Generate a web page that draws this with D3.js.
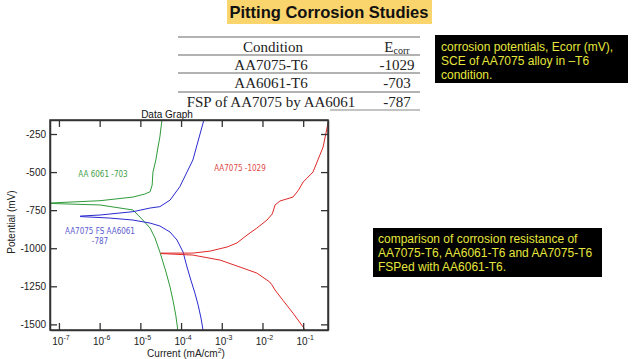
<!DOCTYPE html>
<html><head><meta charset="utf-8">
<script src="https://cdn.jsdelivr.net/npm/d3@7"></script>
<style>body{margin:0;background:#fff}svg{display:block}</style>
</head><body>
<svg id="c" width="638" height="359"></svg>
<script>
// ---------- data ----------
const yTicks = [-250, -500, -750, -1000, -1250, -1500];
const xTickExp = [-7, -6, -5, -4, -3, -2, -1];
const tableRows = [["AA7075-T6", "-1029"], ["AA6061-T6", "-703"], ["FSP of AA7075 by AA6061", "-787"]];
const note1 = ["corrosion potentials, Ecorr (mV),", "SCE of AA7075 alloy in \u2013T6", "condition."];
const note2 = ["comparison of corrosion resistance of", "AA7075-T6, AA6061-T6 and AA7075-T6", "FSPed with AA6061-T6."];

// current (mA/cm2), potential (mV)
const greenAnodicI = [6.03e-8, 1.02e-6, 6.61e-6, 1.29e-5, 1.74e-5, 1.95e-5, 2.04e-5, 2.40e-5, 2.69e-5, 3.02e-5, 3.39e-5];
const greenAnodicE = [-703, -688, -664, -644, -629, -585, -500, -421, -342, -268, -158];
const greenCathI = [6.03e-8, 1.02e-6, 6.61e-6, 1.15e-5, 1.74e-5, 2.29e-5, 3.02e-5, 4.27e-5, 5.37e-5, 6.31e-5, 7.41e-5, 8.32e-5];
const greenCathE = [-706, -716, -749, -815, -868, -933, -1025, -1157, -1255, -1341, -1439, -1538];

const blueAnodicI = [3.31e-7, 1.02e-6, 6.61e-6, 1.74e-5, 3.02e-5, 5.37e-5, 9.33e-5, 1.95e-4, 3.47e-4, 3.63e-4];
const blueAnodicE = [-789, -782, -760, -736, -727, -684, -596, -421, -178, -158];
const blueCathI = [3.31e-7, 1.78e-6, 6.61e-6, 1.74e-5, 3.02e-5, 5.37e-5, 7.94e-5, 1.12e-4, 1.38e-4, 1.74e-4, 2.19e-4, 2.63e-4, 3.09e-4, 3.47e-4];
const blueCathE = [-792, -802, -815, -835, -854, -894, -946, -1025, -1117, -1209, -1295, -1374, -1459, -1538];

const redAnodicI = [3.16e-5, 1.95e-4, 5.13e-4, 1.35e-3, 2.34e-3, 4.17e-3, 7.24e-3, 1.29e-2, 1.74e-2, 2.04e-2, 2.69e-2, 5.62e-2, 7.6e-2, 1.00e-1, 1.74e-1, 3.09e-1, 4.07e-1];
const redAnodicE = [-1032, -1032, -1019, -992, -966, -914, -868, -815, -775, -716, -690, -664, -620, -565, -500, -335, -178];
const redCathI = [3.16e-5, 1.95e-4, 9.12e-4, 2.82e-3, 7.24e-3, 1.51e-2, 1.70e-2, 2.04e-2, 3.16e-2, 5.62e-2, 1.00e-1, 1.10e-1];
const redCathE = [-1035, -1045, -1078, -1124, -1163, -1222, -1240, -1275, -1341, -1426, -1518, -1538];

// ---------- layout ----------
const svg = d3.select("#c");
const L = 50, R = 328, T = 120, B = 330;
const x = d3.scaleLog().domain([6.03e-8, 4.07e-1]).range([L, R]);
const y = d3.scaleLinear().domain([-1537, -158]).range([B, T]);

// title
svg.append("rect").attr("x", 227).attr("y", 0).attr("width", 205).attr("height", 24).attr("fill", "#fad46c");
svg.append("text").attr("x", 329).attr("y", 18).attr("text-anchor", "middle")
  .attr("font-family", "Liberation Sans, Arial, sans-serif").attr("font-weight", "bold").attr("font-size", 16.5)
  .attr("fill", "#111").text("Pitting Corrosion Studies");

// table
const tf = "Liberation Serif, Times New Roman, serif";
[37, 55, 73, 92].forEach(yy => svg.append("line").attr("x1", 178).attr("x2", 420).attr("y1", yy).attr("y2", yy).attr("stroke", "#666").attr("stroke-width", 1.2));
svg.append("line").attr("x1", 330).attr("x2", 420).attr("y1", 110).attr("y2", 110).attr("stroke", "#888").attr("stroke-width", 1.2);
svg.append("text").attr("x", 273).attr("y", 52).attr("text-anchor", "middle").attr("font-family", tf).attr("font-size", 15).attr("fill", "#222").text("Condition");
const eh = svg.append("text").attr("x", 397).attr("y", 52).attr("text-anchor", "middle").attr("font-family", tf).attr("font-size", 15).attr("fill", "#222");
eh.append("tspan").text("E");
eh.append("tspan").attr("font-size", 10).attr("dy", 2).text("corr");
tableRows.forEach((r, i) => {
  const yy = 70 + i * 18.3;
  svg.append("text").attr("x", 271).attr("y", yy).attr("text-anchor", "middle").attr("font-family", tf).attr("font-size", 15).attr("fill", "#222").text(r[0]);
  svg.append("text").attr("x", 397).attr("y", yy).attr("text-anchor", "middle").attr("font-family", tf).attr("font-size", 15).attr("fill", "#222").text(r[1]);
});

// note boxes
function note(bx, by, bw, bh, lines, tx, ty0) {
  svg.append("rect").attr("x", bx).attr("y", by).attr("width", bw).attr("height", bh).attr("fill", "#000");
  lines.forEach((s, i) => svg.append("text").attr("x", tx).attr("y", ty0 + i * 14)
    .attr("font-family", "Liberation Sans, Arial, sans-serif").attr("font-size", 12).attr("fill", "#e6e63c").text(s));
}
note(435, 35, 193, 48, note1, 441, 51);
note(373, 228, 229, 49, note2, 378, 243);

// chart
const af = "Liberation Sans, Arial, sans-serif";
svg.append("text").attr("x", 167).attr("y", 118).attr("text-anchor", "middle").attr("font-family", af).attr("font-size", 10).attr("fill", "#111").text("Data Graph");

const clip = svg.append("defs").append("clipPath").attr("id", "pc");
clip.append("rect").attr("x", L).attr("y", T).attr("width", R - L).attr("height", B - T);

const line = d3.line().x(d => x(d[0])).y(d => y(d[1]));
const g = svg.append("g").attr("clip-path", "url(#pc)");
function series(I, E, col) {
  g.append("path").datum(I.map((v, i) => [v, E[i]])).attr("d", line).attr("fill", "none").attr("stroke", col).attr("stroke-width", 1);
}
series(greenAnodicI, greenAnodicE, "#2f9a3a");
series(greenCathI, greenCathE, "#2f9a3a");
series(blueAnodicI, blueAnodicE, "#2a2ad0");
series(blueCathI, blueCathE, "#2a2ad0");
series(redAnodicI, redAnodicE, "#e02828");
series(redCathI, redCathE, "#e02828");

// axes
const xt = xTickExp.map(e => Math.pow(10, e));
const ax = (a) => a.tickSizeOuter(0).tickFormat("");
svg.append("g").attr("transform", `translate(0,${B})`).call(ax(d3.axisBottom(x).tickValues(xt).tickSizeInner(-7)));
svg.append("g").attr("transform", `translate(0,${T})`).call(ax(d3.axisTop(x).tickValues(xt).tickSizeInner(-7)));
svg.append("g").attr("transform", `translate(${L},0)`).call(ax(d3.axisLeft(y).tickValues(yTicks).tickSizeInner(-7)));
svg.append("g").attr("transform", `translate(${R},0)`).call(ax(d3.axisRight(y).tickValues(yTicks).tickSizeInner(-7)));
svg.selectAll("g .domain").attr("stroke", "#333").attr("stroke-width", 1.5);
svg.selectAll("g .tick line").attr("stroke", "#333").attr("stroke-width", 1.3);
svg.append("rect").attr("x", L).attr("y", T).attr("width", R - L).attr("height", B - T).attr("fill", "none").attr("stroke", "#333").attr("stroke-width", 1.5);

// tick labels
yTicks.forEach(v => svg.append("text").attr("x", 46).attr("y", y(v) + 3.5).attr("text-anchor", "end")
  .attr("font-family", af).attr("font-size", 10).attr("fill", "#222").text(v));
xTickExp.forEach((e, i) => {
  const t = svg.append("text").attr("x", x(xt[i]) + 2).attr("y", 345).attr("text-anchor", "middle")
    .attr("font-family", af).attr("font-size", 10).attr("fill", "#222");
  t.append("tspan").text("10");
  t.append("tspan").attr("font-size", 7).attr("dy", -5).text(e);
});
const xl = svg.append("text").attr("x", 186).attr("y", 357).attr("text-anchor", "middle").attr("font-family", af).attr("font-size", 10).attr("fill", "#222");
xl.append("tspan").text("Current (mA/cm");
xl.append("tspan").attr("font-size", 7).attr("dy", -4).text("2");
xl.append("tspan").attr("dy", 4).text(")");
svg.append("text").attr("transform", "translate(15,222) rotate(-90)").attr("text-anchor", "middle")
  .attr("font-family", af).attr("font-size", 10).attr("fill", "#222").text("Potential (mV)");

// curve labels
const lf = "Liberation Sans Narrow, DejaVu Sans Condensed, sans-serif";
svg.append("text").attr("x", 103).attr("y", 177).attr("text-anchor", "middle").attr("font-family", lf).attr("font-size", 8).attr("fill", "#3fa04a").text("AA 6061 -703");
svg.append("text").attr("x", 100).attr("y", 234).attr("text-anchor", "middle").attr("font-family", lf).attr("font-size", 8).attr("fill", "#5a5ad0").text("AA7075 FS AA6061");
svg.append("text").attr("x", 100).attr("y", 244).attr("text-anchor", "middle").attr("font-family", lf).attr("font-size", 8).attr("fill", "#5a5ad0").text("-787");
svg.append("text").attr("x", 240).attr("y", 171).attr("text-anchor", "middle").attr("font-family", lf).attr("font-size", 8).attr("fill", "#e04848").text("AA7075 -1029");
</script>
</body></html>
